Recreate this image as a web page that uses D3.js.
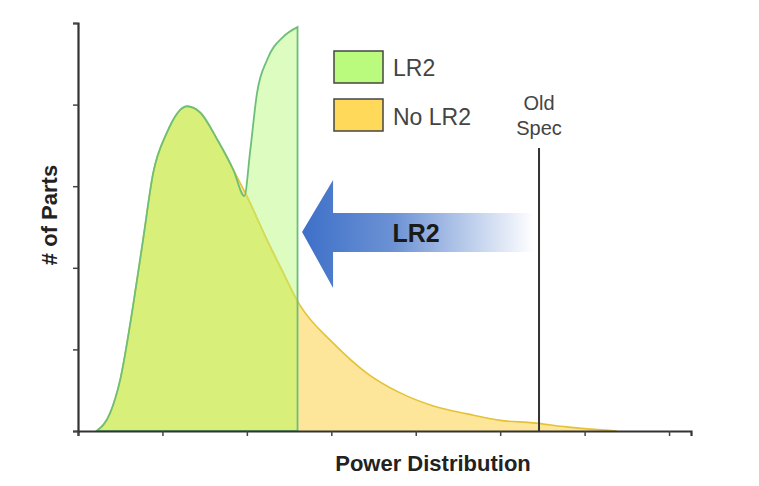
<!DOCTYPE html>
<html>
<head>
<meta charset="utf-8">
<script src="https://cdn.jsdelivr.net/npm/d3@7"></script>
<style>
  body { margin: 0; background: #fff; }
  svg { display: block; font-family: "Liberation Sans", Arial, sans-serif; }
</style>
</head>
<body>
<div id="chart"></div>
<script>
/* data (x in tick units, y in tick units) */
const noLR2X = [0.22, 0.38, 0.5, 0.65, 0.77, 0.89, 1.05, 1.29, 1.45, 1.65, 1.84, 1.98, 2.24, 2.43, 2.59, 2.63, 3.02, 3.42, 3.81, 4.2, 4.61, 5.0, 5.39, 5.79, 6.38];
const noLR2Y = [0, 0.22, 0.63, 1.52, 2.34, 3.16, 3.65, 3.98, 3.9, 3.57, 3.2, 2.92, 2.34, 1.94, 1.61, 1.54, 1.08, 0.71, 0.47, 0.31, 0.21, 0.13, 0.1, 0.05, 0];
const lr2X = [0.22, 0.38, 0.5, 0.65, 0.77, 0.89, 1.05, 1.29, 1.45, 1.65, 1.84, 1.97, 2.04, 2.12, 2.24, 2.43, 2.6];
const lr2Y = [0, 0.22, 0.63, 1.52, 2.34, 3.16, 3.65, 3.98, 3.9, 3.57, 3.2, 2.88, 3.44, 4.14, 4.55, 4.83, 4.95];
const xTicks = [0, 1, 2, 3, 4, 5, 6, 7];
const yTicks = [0, 1, 2, 3, 4, 5];
const oldSpec = 5.46;
const arrowFrom = 5.4, arrowTo = 2.63, arrowLevel = 2.44;
const legendItems = ["LR2", "No LR2"];

const W = 759, H = 486;
const svg = d3.select('#chart').append('svg').attr('width', W).attr('height', H);
const defs = svg.append('defs');

const x = d3.scaleLinear().domain([0, 7.26]).range([78, 691]);
const y = d3.scaleLinear().domain([0, 5]).range([431, 23]);

const noLR2 = noLR2X.map((v, i) => ({x: v, y: noLR2Y[i]}));
const lr2 = lr2X.map((v, i) => ({x: v, y: lr2Y[i]}));

const area = d3.area().x(d => x(d.x)).y0(y(0)).y1(d => y(d.y)).curve(d3.curveMonotoneX);
const line = d3.line().x(d => x(d.x)).y(d => y(d.y)).curve(d3.curveMonotoneX);

/* --- areas --- */
defs.append('clipPath').attr('id', 'lr2clip').append('path').attr('d', area(lr2));

svg.append('path').attr('d', area(noLR2)).attr('fill', '#fde69a');
svg.append('path').attr('d', area(lr2)).attr('fill', '#dcfcc0');
svg.append('path').attr('d', area(noLR2)).attr('fill', '#d8f07a').attr('clip-path', 'url(#lr2clip)');
svg.append('path').attr('d', line(noLR2)).attr('fill', 'none').attr('stroke', '#e3c23a').attr('stroke-width', 1.6);
svg.append('path').attr('d', line(noLR2)).attr('fill', 'none').attr('stroke', '#cfe25a').attr('stroke-width', 1.2)
  .attr('clip-path', 'url(#lr2clip)');
svg.append('path').attr('d', area(lr2)).attr('fill', 'none').attr('stroke', '#6cbf78').attr('stroke-width', 1.8);

/* --- axes --- */
const xAxis = svg.append('g').attr('transform', `translate(0,${y(0)})`)
  .call(d3.axisBottom(x).tickValues(xTicks).tickSize(5).tickFormat(''));
const yAxis = svg.append('g').attr('transform', `translate(${x(0)},0)`)
  .call(d3.axisLeft(y).tickValues(yTicks).tickSize(5).tickFormat(''));
[xAxis, yAxis].forEach(a => {
  a.select('.domain').attr('stroke', '#333').attr('stroke-width', 2.2);
  a.selectAll('.tick line').attr('stroke', '#444').attr('stroke-width', 1.5);
});

/* --- old spec --- */
svg.append('line').attr('x1', x(oldSpec)).attr('x2', x(oldSpec)).attr('y1', 148).attr('y2', y(0))
  .attr('stroke', '#333').attr('stroke-width', 2);
svg.append('text').attr('x', x(oldSpec)).attr('y', 110).attr('text-anchor', 'middle')
  .attr('font-size', 20).attr('fill', '#444').text('Old');
svg.append('text').attr('x', x(oldSpec)).attr('y', 135).attr('text-anchor', 'middle')
  .attr('font-size', 20).attr('fill', '#444').text('Spec');

/* --- arrow --- */
const grad = defs.append('linearGradient').attr('id', 'arrowGrad')
  .attr('gradientUnits', 'userSpaceOnUse').attr('x1', x(arrowTo)).attr('x2', x(arrowFrom)).attr('y1', 0).attr('y2', 0);
grad.append('stop').attr('offset', '0%').attr('stop-color', '#3c6fc8');
grad.append('stop').attr('offset', '40%').attr('stop-color', '#6c92d4');
grad.append('stop').attr('offset', '100%').attr('stop-color', '#ffffff');

const tipX = x(arrowTo) + 2, tailX = x(arrowFrom), cy = y(arrowLevel);
const headX = tipX + 31;
svg.append('path')
  .attr('d', `M${tipX},${cy} L${headX},${cy - 52} L${headX},${cy - 19} L${tailX},${cy - 19} L${tailX},${cy + 20} L${headX},${cy + 20} L${headX},${cy + 56} Z`)
  .attr('fill', 'url(#arrowGrad)');
svg.append('text').attr('x', 416).attr('y', 242).attr('text-anchor', 'middle')
  .attr('font-size', 25).attr('font-weight', 'bold').attr('fill', '#1a1a1a').text('LR2');

/* --- legend --- */
const legendFill = ['#bafa7c', '#fed95a'];
const lg = svg.append('g').attr('transform', 'translate(334,51)');
legendItems.forEach((t, i) => {
  lg.append('rect').attr('x', 0).attr('y', i * 48).attr('width', 49).attr('height', 32)
    .attr('fill', legendFill[i]).attr('stroke', '#444').attr('stroke-width', 1.5);
  lg.append('text').attr('x', 59).attr('y', i * 49 + 25).attr('font-size', 23).attr('fill', '#444').text(t);
});

/* --- axis titles --- */
svg.append('text').attr('x', 433).attr('y', 471).attr('text-anchor', 'middle')
  .attr('font-size', 22).attr('font-weight', 'bold').attr('fill', '#222').text('Power Distribution');
svg.append('text').attr('transform', 'translate(57,215) rotate(-90)').attr('text-anchor', 'middle')
  .attr('font-size', 22).attr('font-weight', 'bold').attr('fill', '#222').text('# of Parts');
</script>
</body>
</html>
